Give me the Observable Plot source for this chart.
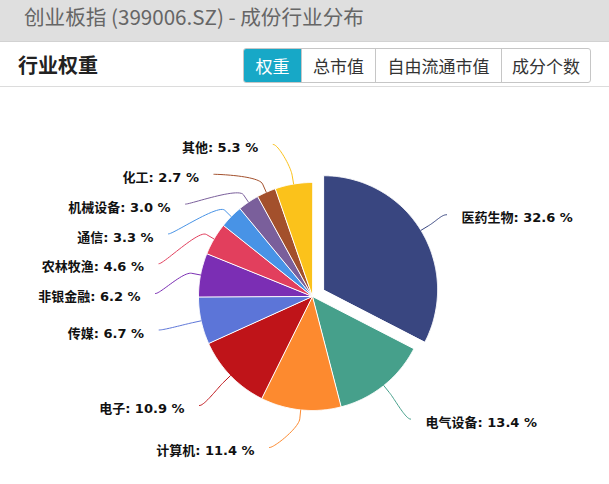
<!DOCTYPE html>
<html><head><meta charset="utf-8">
<script src="https://cdn.jsdelivr.net/npm/d3@7"></script>
<script src="https://cdn.jsdelivr.net/npm/@observablehq/plot@0.6"></script>
<style>
html,body{margin:0;padding:0;background:#fff;width:609px;height:484px;overflow:hidden;font-family:"Noto Sans CJK SC","Noto Sans",sans-serif;}
#top{position:absolute;left:0;top:0;width:609px;height:41px;background:#dfdfdf;border-bottom:1px solid #d2d2d2;}
#top span{position:absolute;left:24px;top:2px;font-size:20.6px;line-height:28px;color:#666;white-space:nowrap;}
#panel{position:absolute;left:0;top:42px;width:609px;height:44px;background:#fff;border-bottom:1px solid #dcdcdc;}
#ptitle{position:absolute;left:18px;top:8px;font-size:20px;line-height:30px;font-weight:bold;color:#222;}
#btns{position:absolute;left:243px;top:6px;width:348px;height:35px;box-sizing:border-box;border:1px solid #c6c6c6;border-radius:3px;overflow:hidden;display:flex;}
#btns div{box-sizing:border-box;height:33px;line-height:33px;font-size:17px;color:#333;text-align:center;border-left:1px solid #c6c6c6;white-space:nowrap;}
#btns div.on{background:#17a8c7;color:#fff;border-left:none;}
#chart{position:absolute;left:0;top:88px;}
</style></head>
<body>
<div id="top"><span>创业板指 (399006.SZ) - 成份行业分布</span></div>
<div id="panel"><div id="ptitle">行业权重</div>
<div id="btns"><div class="on" style="width:57px">权重</div><div style="width:74px">总市值</div><div style="width:126px">自由流通市值</div><div style="flex:1">成分个数</div></div></div>
<div id="chart"></div>
<script>
const names = ["医药生物","电气设备","计算机","电子","传媒","非银金融","农林牧渔","通信","机械设备","化工","其他"];
const weights = [32.6,13.4,11.4,10.9,6.7,6.2,4.6,3.3,3.0,2.7,5.3];
const colors = ["#394680","#46a08b","#fd8a2f","#bf1419","#5c75d8","#7b2eb4","#e23f5d","#4893e6","#7a5f9b","#a3502c","#fbc21b"];
const explodedName = "医药生物";

const W = 609, H = 396, cx = 312, cy = 208;
const R = 114, RL = 157, explode = 13, breakOff = 9, gap = 15, spacing = 29.8;
const minY = -152, maxY = 151;

const total = d3.sum(weights);
let acc = 0;
const slices = names.map((name, i) => {
  const a0 = acc / total * 2 * Math.PI; acc += weights[i];
  const a1 = acc / total * 2 * Math.PI;
  const mid = (a0 + a1) / 2;
  const off = name === explodedName ? explode : 0;
  return {name, value: weights[i], a0, a1, mid, ox: off * Math.sin(mid), oy: -off * Math.cos(mid)};
});

// slice polygons
const slicePts = [];
for (const s of slices) {
  slicePts.push({name: s.name, x: s.ox, y: s.oy});
  const n = Math.max(2, Math.ceil((s.a1 - s.a0) / (Math.PI / 360)));
  for (let k = 0; k <= n; k++) {
    const a = s.a0 + (s.a1 - s.a0) * k / n;
    slicePts.push({name: s.name, x: s.ox + R * Math.sin(a), y: s.oy - R * Math.cos(a)});
  }
}

// label layout (per side, avoid overlaps)
for (const s of slices) { s.side = Math.sin(s.mid) >= 0 ? 1 : -1; s.ny = -RL * Math.cos(s.mid); }
for (const side of [1, -1]) {
  const group = slices.filter(s => s.side === side).sort((a, b) => a.ny - b.ny);
  let prev = -Infinity;
  for (const s of group) { s.ly = Math.max(s.ny, prev + spacing, minY); prev = s.ly; }
  for (let i = group.length - 1; i >= 0; i--) {
    const lim = i === group.length - 1 ? maxY : group[i + 1].ly - spacing;
    group[i].ly = Math.min(group[i].ly, lim);
  }
  for (const s of group) s.lx = side * Math.sqrt(Math.max(0, RL * RL - s.ly * s.ly));
}

// connectors: cubic from label point to break point, then line to slice edge
const connPts = [];
for (const s of slices) {
  const sx = Math.sin(s.mid), sy = -Math.cos(s.mid);
  const T = [s.ox + R * sx, s.oy + R * sy];
  const B = [s.ox + (R + breakOff) * sx, s.oy + (R + breakOff) * sy];
  const P0 = [s.lx, s.ly], P1 = [s.lx - 5 * s.side, s.ly], P2 = [2 * B[0] - T[0], 2 * B[1] - T[1]], P3 = B;
  for (let k = 0; k <= 24; k++) {
    const t = k / 24, u = 1 - t;
    connPts.push({name: s.name,
      x: u*u*u*P0[0] + 3*u*u*t*P1[0] + 3*u*t*t*P2[0] + t*t*t*P3[0],
      y: u*u*u*P0[1] + 3*u*u*t*P1[1] + 3*u*t*t*P2[1] + t*t*t*P3[1]});
  }
  connPts.push({name: s.name, x: T[0], y: T[1]});
}

const fmt = d => `${d.name}: ${d.value.toFixed(1)} %`;
const labelFont = "DejaVu Sans, Noto Sans CJK SC, sans-serif";

const chart = Plot.plot({
  width: W, height: H, margin: 0,
  x: {domain: [-cx, W - cx], range: [0, W], axis: null},
  y: {domain: [-cy, H - cy], range: [0, H], axis: null},
  color: {domain: names, range: colors},
  style: {background: "transparent", overflow: "visible"},
  marks: [
    Plot.line(slicePts, {x: "x", y: "y", z: "name", fill: "name", stroke: "#fff", strokeWidth: 1, curve: "linear-closed"}),
    Plot.line(connPts, {x: "x", y: "y", z: "name", stroke: "name", strokeWidth: 1}),
    Plot.text(slices.filter(s => s.side > 0), {x: "lx", y: "ly", text: fmt, textAnchor: "start", dx: gap, dy: 3.5,
      fontSize: 13, fontWeight: "bold", fill: "#111", fontFamily: labelFont}),
    Plot.text(slices.filter(s => s.side < 0), {x: "lx", y: "ly", text: fmt, textAnchor: "end", dx: -gap, dy: 3.5,
      fontSize: 13, fontWeight: "bold", fill: "#111", fontFamily: labelFont})
  ]
});
document.getElementById("chart").appendChild(chart);
</script>
</body></html>
